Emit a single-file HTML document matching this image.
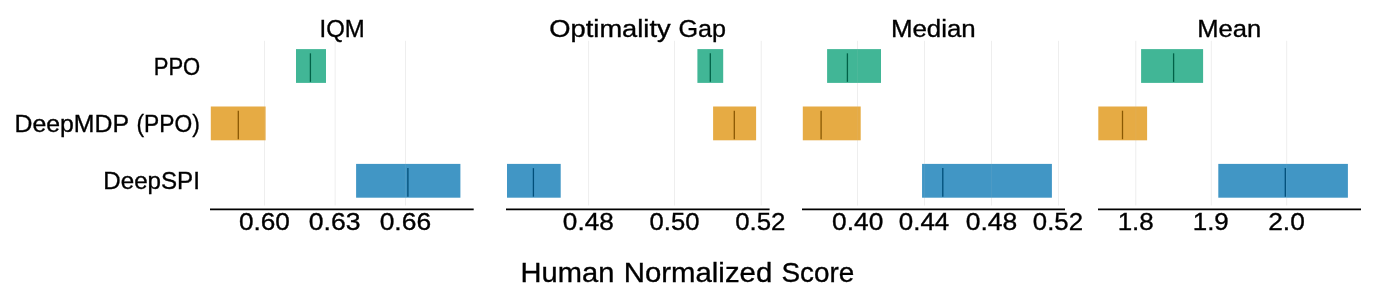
<!DOCTYPE html>
<html><head><meta charset="utf-8"><style>
html,body{margin:0;padding:0;background:#fff;width:1376px;height:294px;overflow:hidden}
svg{display:block;will-change:transform;filter:blur(0.3px)}
text{font-family:"Liberation Sans", sans-serif;fill:#000;stroke:#000;stroke-width:0.35px}
</style></head><body>
<svg width="1376" height="294" viewBox="0 0 1376 294">
<line x1="264.50" y1="40.8" x2="264.50" y2="205.5" stroke="#ededed" stroke-width="1.0"/>
<line x1="335.10" y1="40.8" x2="335.10" y2="205.5" stroke="#ededed" stroke-width="1.0"/>
<line x1="405.50" y1="40.8" x2="405.50" y2="205.5" stroke="#ededed" stroke-width="1.0"/>
<line x1="588.60" y1="40.8" x2="588.60" y2="205.5" stroke="#ededed" stroke-width="1.0"/>
<line x1="674.50" y1="40.8" x2="674.50" y2="205.5" stroke="#ededed" stroke-width="1.0"/>
<line x1="761.20" y1="40.8" x2="761.20" y2="205.5" stroke="#ededed" stroke-width="1.0"/>
<line x1="857.50" y1="40.8" x2="857.50" y2="205.5" stroke="#ededed" stroke-width="1.0"/>
<line x1="924.50" y1="40.8" x2="924.50" y2="205.5" stroke="#ededed" stroke-width="1.0"/>
<line x1="991.50" y1="40.8" x2="991.50" y2="205.5" stroke="#ededed" stroke-width="1.0"/>
<line x1="1058.50" y1="40.8" x2="1058.50" y2="205.5" stroke="#ededed" stroke-width="1.0"/>
<line x1="1135.80" y1="40.8" x2="1135.80" y2="205.5" stroke="#ededed" stroke-width="1.0"/>
<line x1="1211.30" y1="40.8" x2="1211.30" y2="205.5" stroke="#ededed" stroke-width="1.0"/>
<line x1="1286.70" y1="40.8" x2="1286.70" y2="205.5" stroke="#ededed" stroke-width="1.0"/>
<rect x="296.00" y="49.10" width="30.00" height="33.80" fill="#029e73" fill-opacity="0.75"/>
<line x1="310.40" y1="53.33" x2="310.40" y2="81.84" stroke="#016147" stroke-opacity="1.0" stroke-width="1.3"/>
<rect x="210.80" y="106.50" width="54.80" height="33.80" fill="#de8f05" fill-opacity="0.75"/>
<line x1="238.30" y1="110.72" x2="238.30" y2="139.24" stroke="#895803" stroke-opacity="1.0" stroke-width="1.3"/>
<rect x="356.10" y="163.90" width="104.30" height="33.80" fill="#0173b2" fill-opacity="0.75"/>
<line x1="407.90" y1="168.12" x2="407.90" y2="196.64" stroke="#004e79" stroke-opacity="1.0" stroke-width="1.3"/>
<line x1="264.50" y1="40.8" x2="264.50" y2="205.5" stroke="#fff" stroke-opacity="0.08" stroke-width="1.0"/>
<line x1="335.10" y1="40.8" x2="335.10" y2="205.5" stroke="#fff" stroke-opacity="0.08" stroke-width="1.0"/>
<line x1="405.50" y1="40.8" x2="405.50" y2="205.5" stroke="#fff" stroke-opacity="0.08" stroke-width="1.0"/>
<line x1="210.00" y1="209.4" x2="473.70" y2="209.4" stroke="#000" stroke-width="1.7"/>
<rect x="697.40" y="49.10" width="25.80" height="33.80" fill="#029e73" fill-opacity="0.75"/>
<line x1="710.30" y1="53.33" x2="710.30" y2="81.84" stroke="#016147" stroke-opacity="1.0" stroke-width="1.3"/>
<rect x="713.10" y="106.50" width="43.00" height="33.80" fill="#de8f05" fill-opacity="0.75"/>
<line x1="734.30" y1="110.72" x2="734.30" y2="139.24" stroke="#895803" stroke-opacity="1.0" stroke-width="1.3"/>
<rect x="507.00" y="163.90" width="53.70" height="33.80" fill="#0173b2" fill-opacity="0.75"/>
<line x1="533.40" y1="168.12" x2="533.40" y2="196.64" stroke="#004e79" stroke-opacity="1.0" stroke-width="1.3"/>
<line x1="588.60" y1="40.8" x2="588.60" y2="205.5" stroke="#fff" stroke-opacity="0.08" stroke-width="1.0"/>
<line x1="674.50" y1="40.8" x2="674.50" y2="205.5" stroke="#fff" stroke-opacity="0.08" stroke-width="1.0"/>
<line x1="761.20" y1="40.8" x2="761.20" y2="205.5" stroke="#fff" stroke-opacity="0.08" stroke-width="1.0"/>
<line x1="506.00" y1="209.4" x2="769.60" y2="209.4" stroke="#000" stroke-width="1.7"/>
<rect x="827.10" y="49.10" width="53.90" height="33.80" fill="#029e73" fill-opacity="0.75"/>
<line x1="847.40" y1="53.33" x2="847.40" y2="81.84" stroke="#016147" stroke-opacity="1.0" stroke-width="1.3"/>
<rect x="802.80" y="106.50" width="57.90" height="33.80" fill="#de8f05" fill-opacity="0.75"/>
<line x1="821.10" y1="110.72" x2="821.10" y2="139.24" stroke="#895803" stroke-opacity="1.0" stroke-width="1.3"/>
<rect x="922.05" y="163.90" width="129.85" height="33.80" fill="#0173b2" fill-opacity="0.75"/>
<line x1="942.80" y1="168.12" x2="942.80" y2="196.64" stroke="#004e79" stroke-opacity="1.0" stroke-width="1.3"/>
<line x1="857.50" y1="40.8" x2="857.50" y2="205.5" stroke="#fff" stroke-opacity="0.08" stroke-width="1.0"/>
<line x1="924.50" y1="40.8" x2="924.50" y2="205.5" stroke="#fff" stroke-opacity="0.08" stroke-width="1.0"/>
<line x1="991.50" y1="40.8" x2="991.50" y2="205.5" stroke="#fff" stroke-opacity="0.08" stroke-width="1.0"/>
<line x1="1058.50" y1="40.8" x2="1058.50" y2="205.5" stroke="#fff" stroke-opacity="0.08" stroke-width="1.0"/>
<line x1="802.00" y1="209.4" x2="1065.00" y2="209.4" stroke="#000" stroke-width="1.7"/>
<rect x="1141.10" y="49.10" width="62.00" height="33.80" fill="#029e73" fill-opacity="0.75"/>
<line x1="1173.60" y1="53.33" x2="1173.60" y2="81.84" stroke="#016147" stroke-opacity="1.0" stroke-width="1.3"/>
<rect x="1098.30" y="106.50" width="48.80" height="33.80" fill="#de8f05" fill-opacity="0.75"/>
<line x1="1122.50" y1="110.72" x2="1122.50" y2="139.24" stroke="#895803" stroke-opacity="1.0" stroke-width="1.3"/>
<rect x="1218.30" y="163.90" width="129.60" height="33.80" fill="#0173b2" fill-opacity="0.75"/>
<line x1="1285.30" y1="168.12" x2="1285.30" y2="196.64" stroke="#004e79" stroke-opacity="1.0" stroke-width="1.3"/>
<line x1="1135.80" y1="40.8" x2="1135.80" y2="205.5" stroke="#fff" stroke-opacity="0.08" stroke-width="1.0"/>
<line x1="1211.30" y1="40.8" x2="1211.30" y2="205.5" stroke="#fff" stroke-opacity="0.08" stroke-width="1.0"/>
<line x1="1286.70" y1="40.8" x2="1286.70" y2="205.5" stroke="#fff" stroke-opacity="0.08" stroke-width="1.0"/>
<line x1="1098.00" y1="209.4" x2="1361.00" y2="209.4" stroke="#000" stroke-width="1.7"/>
<text transform="translate(319.56,36.90) scale(0.9763,1)" font-size="24.50">IQM</text>
<text transform="translate(549.34,36.90) scale(1.1143,1)" font-size="24.50">Optimality</text>
<text transform="translate(678.49,36.90) scale(1.0263,1)" font-size="24.50">Gap</text>
<text transform="translate(890.88,36.90) scale(1.0567,1)" font-size="24.50">Median</text>
<text transform="translate(1197.20,36.90) scale(1.0438,1)" font-size="24.50">Mean</text>
<text transform="translate(153.73,74.85) scale(0.8984,1)" font-size="24.50">PPO</text>
<text transform="translate(14.54,132.20) scale(1.0131,1)" font-size="24.50">DeepMDP</text>
<text transform="translate(136.46,132.20) scale(0.9305,1)" font-size="24.50">(PPO)</text>
<text transform="translate(103.29,189.40) scale(0.9855,1)" font-size="24.50">DeepSPI</text>
<text transform="translate(238.96,230.10) scale(1.0691,1)" font-size="24.50">0.60</text>
<text transform="translate(308.75,230.10) scale(1.0864,1)" font-size="24.50">0.63</text>
<text transform="translate(379.66,230.10) scale(1.0790,1)" font-size="24.50">0.66</text>
<text transform="translate(562.85,230.10) scale(1.0688,1)" font-size="24.50">0.48</text>
<text transform="translate(649.58,230.10) scale(1.0467,1)" font-size="24.50">0.50</text>
<text transform="translate(735.27,230.10) scale(1.0531,1)" font-size="24.50">0.52</text>
<text transform="translate(832.07,230.10) scale(1.0743,1)" font-size="24.50">0.40</text>
<text transform="translate(898.78,230.10) scale(1.0594,1)" font-size="24.50">0.44</text>
<text transform="translate(965.76,230.10) scale(1.0810,1)" font-size="24.50">0.48</text>
<text transform="translate(1032.87,230.10) scale(1.0511,1)" font-size="24.50">0.52</text>
<text transform="translate(1117.64,230.10) scale(1.0614,1)" font-size="24.50">1.8</text>
<text transform="translate(1192.75,230.10) scale(1.0583,1)" font-size="24.50">1.9</text>
<text transform="translate(1268.24,230.10) scale(1.0742,1)" font-size="24.50">2.0</text>
<text transform="translate(520.62,282.00) scale(1.0387,1)" font-size="28.00">Human</text>
<text transform="translate(623.80,282.00) scale(1.0487,1)" font-size="28.00">Normalized</text>
<text transform="translate(781.42,282.00) scale(0.9961,1)" font-size="28.00">Score</text>
</svg>
</body></html>
